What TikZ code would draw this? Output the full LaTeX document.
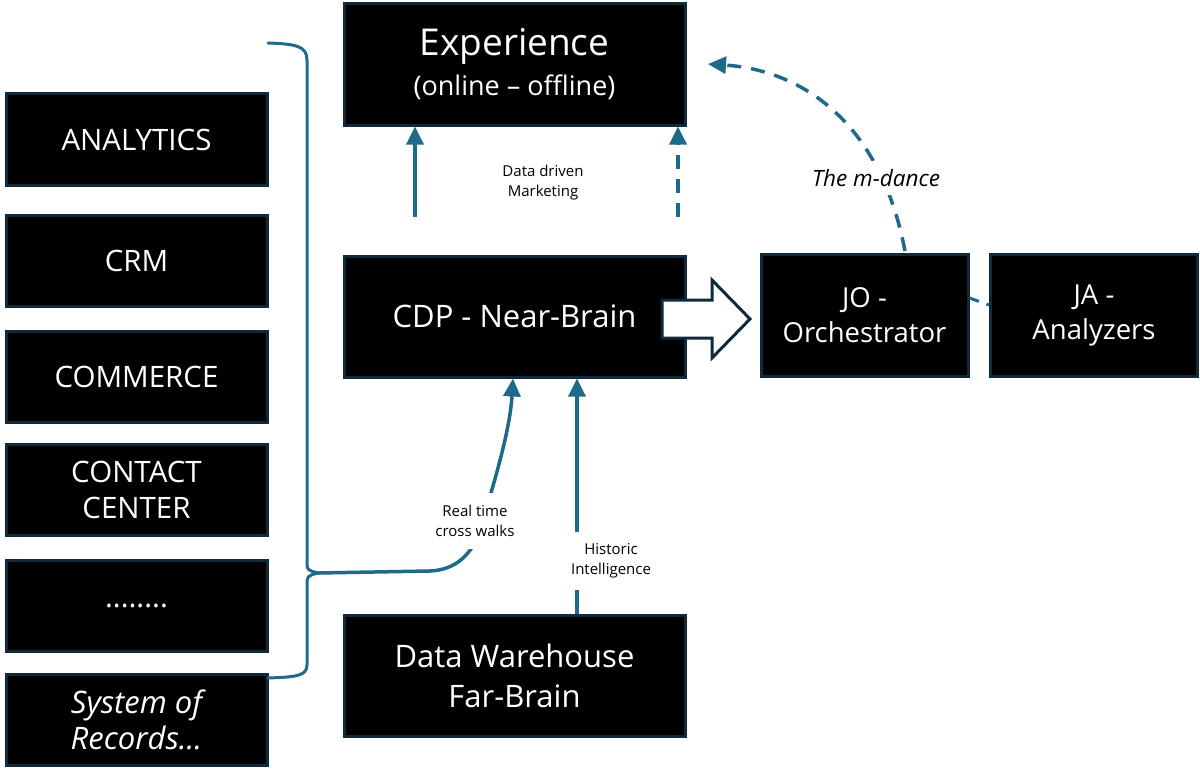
\documentclass[tikz,border=0pt]{standalone}
\usepackage{fontspec}
\setmainfont{Open Sans}
\usetikzlibrary{positioning, calc, arrows.meta}
\definecolor{navy}{HTML}{0E2A3B}
\definecolor{linkblue}{HTML}{1D6A8A}

\begin{document}
\begin{tikzpicture}[x=1pt,y=-1pt,
    box/.style={rectangle,draw=navy,fill=black,line width=3pt,text=white,align=center,
        font=\fontsize{29.5}{36}\selectfont},
    sysbox/.style={box,minimum width=261pt,minimum height=91pt},
    bigbox/.style={box,minimum width=341pt,minimum height=121pt,font=\fontsize{31}{40}\selectfont},
    jbox/.style={box,minimum width=207pt,minimum height=122pt,font=\fontsize{27.5}{35}\selectfont},
    flow/.style={draw=linkblue,line width=3.5pt,-{Triangle[length=18pt,width=17pt]}},
    dashflow/.style={flow,dash pattern=on 14pt off 10pt},
    brace/.style={draw=linkblue,line width=3pt,line cap=round},
    lbl/.style={font=\fontsize{15}{20}\selectfont,align=center},
    cover/.style={lbl,fill=white,inner sep=12pt}]
    \useasboundingbox (0,0) rectangle (1200,776);
    % systems on the left
    \node[sysbox] (analytics) at (136.5,139.5) {ANALYTICS};
    \node[sysbox] (crm) at (136.5,261) {CRM};
    \node[sysbox] (commerce) at (136.5,376.5) {COMMERCE};
    \node[sysbox] (contact) at (136.5,490) {CONTACT\\CENTER};
    \node[sysbox] (more) at (136.5,606) {........};
    \node[sysbox,font=\fontsize{31}{36}\selectfont\itshape] (records) at (136.5,719.5) {System of\\Records...};
    % middle column
    \node[bigbox] (exp) at (514.5,64.5) {{\fontsize{37}{40}\selectfont Experience}\\{\fontsize{27}{38}\selectfont (online -- offline)}};
    \node[bigbox] (cdp) at (514.5,316.5) {CDP - Near-Brain};
    \node[bigbox] (dw) at (514.5,675.5) {Data Warehouse\\Far-Brain};
    % journeys
    \node[jbox] (jo) at (864.5,315) {JO -\\Orchestrator};
    \node[jbox] (ja) at (1094,315) {JA -\\Analyzers};

    \draw[flow] (415,217) -- (415,0 |- exp.south);
    \draw[dashflow] (678,217) -- (678,0 |- exp.south);
    \node[lbl] (ddm) at (543,183) {Data driven\\Marketing};

    \draw[navy,line width=3pt,fill=white] (662,300) -- (712,300) -- (712,280) -- (750,319)
        -- (712,358) -- (712,338) -- (662,338) -- cycle;

    \draw[dashflow] (905,251) .. controls (880,120) and (800,70) .. (708,64);
    \node[lbl,fill=white,inner sep=8pt,font=\fontsize{22.5}{26}\selectfont\itshape] (dance) at (876,178) {The m-dance};
    \draw[linkblue,line width=3pt,dash pattern=on 10pt off 8pt] ($(jo.east)+(0,-17)$) -- ($(ja.west)+(0,-10)$);

    % brace collecting the systems
    \coordinate (tip) at (318,573);
    \draw[brace] (268,43) .. controls (296,44) and (307,46) .. (307,60) -- (307,562)
        .. controls (307,570) .. (tip) .. controls (307,576) .. (307,586) -- (307,665)
        .. controls (307,676) and (296,677) .. (268,678);
    \draw[flow] (tip) -- (430,571) .. controls (455,570) and (472,555) .. (480,530)
        .. controls (495,480) and (510,430) .. (513,0 |- cdp.south);
    \node[cover] (cross) at (475,521) {Real time\\cross walks};

    \draw[flow] (577,0 |- dw.north) -- (577,0 |- cdp.south);
    \node[cover] (hist) at (611,561) {Historic\\Intelligence};
\end{tikzpicture}
\end{document}
